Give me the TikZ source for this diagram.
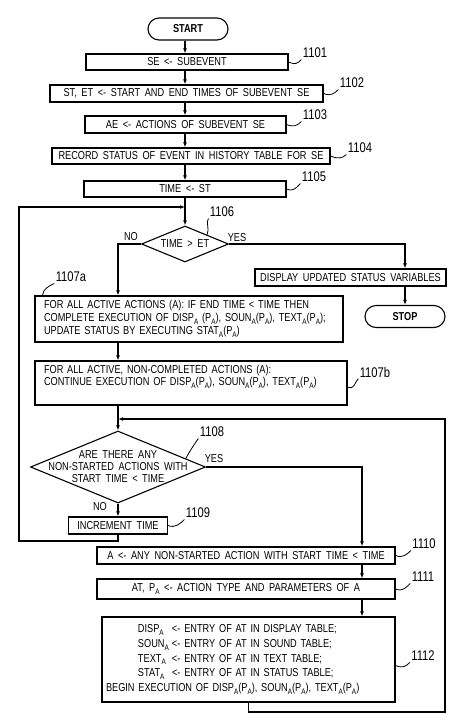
\documentclass[tikz,border=0pt]{standalone}
\usepackage{fontspec}
\setmainfont{Liberation Sans}[FakeStretch=0.8, WordSpace=1.8]
\usetikzlibrary{arrows.meta,shapes.geometric,calc}
\newcommand\ssub[1]{\raisebox{-0.45ex}{\fontsize{8}{8}\selectfont #1}}
\begin{document}
\begin{tikzpicture}[x=1pt,y=-1pt,
  font=\fontsize{11.5}{13}\selectfont,
  line width=1.1pt,
  pbox/.style={draw, rectangle, inner sep=0pt, minimum height=17pt, align=center},
  term/.style={draw, rectangle, rounded corners=11pt, minimum width=80pt, minimum height=22pt, font=\fontsize{11.5}{13}\selectfont\bfseries},
  dia/.style={draw, diamond, inner sep=0pt},
  lbl/.style={font=\fontsize{14}{14}\selectfont, inner sep=1pt},
  arr/.style={-{Latex[length=5pt,width=3.8pt]}},
  sq/.style={line width=0.8pt}]
\useasboundingbox (0,0) rectangle (474,721);
\coordinate (col) at (185,0);
\coordinate (col2) at (118,0);
\coordinate (col3) at (405,0);
\coordinate (col4) at (362,0);
% top column
\node[term] (start) at (188,29) {START};
\node[pbox, minimum width=202pt, minimum height=16pt] (b1101) at (187,62) {SE <- SUBEVENT};
\node[pbox, minimum width=273pt] (b1102) at (186.5,93.5) {ST, ET <- START AND END TIMES OF SUBEVENT SE};
\node[pbox, minimum width=201pt] (b1103) at (185.5,124.5) {AE <- ACTIONS OF SUBEVENT SE};
\node[pbox, minimum width=278pt, minimum height=16pt] (b1104) at (191,156) {RECORD STATUS OF EVENT IN HISTORY TABLE FOR SE};
\node[pbox, minimum width=202pt, minimum height=16pt] (b1105) at (185,189) {TIME <- ST};
\node[dia, minimum width=87pt, minimum height=36pt, label={center:TIME > ET}] (d1106) at (185,244) {};
\node[pbox, minimum width=191pt] (disp) at (350.5,277.5) {DISPLAY UPDATED STATUS VARIABLES};
\node[term] (stop) at (405,316.5) {STOP};
\node[pbox, minimum width=308pt, minimum height=46pt, text width=290pt, inner xsep=9pt, align=left] (b1107a) at (189,319)
 {FOR ALL ACTIVE ACTIONS (A): IF END TIME < TIME THEN\\
  COMPLETE EXECUTION OF DISP\ssub{A} (P\ssub{A}), SOUN\ssub{A}(P\ssub{A}), TEXT\ssub{A}(P\ssub{A});\\
  UPDATE STATUS BY EXECUTING STAT\ssub{A}(P\ssub{A})};
\node[pbox, minimum width=312pt, minimum height=44pt, text width=294pt, inner xsep=9pt, align=left, font=\fontsize{11.5}{11.5}\selectfont] (b1107b) at (191,383)
 {FOR ALL ACTIVE, NON-COMPLETED ACTIONS (A):\\
  CONTINUE EXECUTION OF DISP\ssub{A}(P\ssub{A}), SOUN\ssub{A}(P\ssub{A}), TEXT\ssub{A}(P\ssub{A})\\ \strut};
\node[dia, minimum width=175pt, minimum height=72pt,
  label={[align=center, font=\fontsize{11.5}{12}\selectfont]center:ARE THERE ANY\\NON-STARTED ACTIONS WITH\\START TIME < TIME}] (d1108) at (118,467) {};
\node[pbox, minimum width=99pt] (inc) at (118,525.5) {INCREMENT TIME};
\node[pbox, minimum width=298pt] (b1110) at (246,555.5) {A <- ANY NON-STARTED ACTION WITH START TIME < TIME};
\node[pbox, minimum width=298pt, minimum height=20pt] (b1111) at (246,589) {AT, P\ssub{A} <- ACTION TYPE AND PARAMETERS OF A};
\node[pbox, minimum width=293pt, minimum height=85pt, text width=285pt, inner xsep=4pt, align=left, font=\fontsize{11.5}{14.6}\selectfont] (b1112) at (248.5,659.5)
 {\hspace*{32pt}\makebox[34pt][l]{DISP\ssub{A}}<- ENTRY OF AT IN DISPLAY TABLE;\\
  \hspace*{32pt}\makebox[34pt][l]{SOUN\ssub{A}}<- ENTRY OF AT IN SOUND TABLE;\\
  \hspace*{32pt}\makebox[34pt][l]{TEXT\ssub{A}}<- ENTRY OF AT IN TEXT TABLE;\\
  \hspace*{32pt}\makebox[34pt][l]{STAT\ssub{A}}<- ENTRY OF AT IN STATUS TABLE;\\
  BEGIN EXECUTION OF DISP\ssub{A}(P\ssub{A}), SOUN\ssub{A}(P\ssub{A}), TEXT\ssub{A}(P\ssub{A})};
% branch labels
\node (no1) at (131,237) {NO};
\node (yes1) at (237,238) {YES};
\node (yes2) at (214,459) {YES};
\node (no2) at (100,507) {NO};
% reference numerals
\node[lbl] (l1101) at (315,53) {1101};
\node[lbl] (l1102) at (352,83) {1102};
\node[lbl] (l1103) at (315,115) {1103};
\node[lbl] (l1104) at (360,148) {1104};
\node[lbl] (l1105) at (314,177) {1105};
\node[lbl] (l1106) at (222,212) {1106};
\node[lbl] (l1107a) at (71,277) {1107a};
\node[lbl] (l1107b) at (375,372) {1107b};
\node[lbl] (l1108) at (212,432) {1108};
\node[lbl] (l1109) at (198,513) {1109};
\node[lbl] (l1110) at (424,544) {1110};
\node[lbl] (l1111) at (423,577) {1111};
\node[lbl] (l1112) at (423,656) {1112};
% coordinates for loops
\coordinate (lbot) at (19,541);
\coordinate (ltop) at (19,207);
\coordinate (rbot) at (445,712);
\coordinate (rtop) at (445,419);
% main connectors
\draw[arr] (start.south -| col) -- (b1101.north -| col);
\draw[arr] (b1101.south -| col) -- (b1102.north -| col);
\draw[arr] (b1102.south -| col) -- (b1103.north -| col);
\draw[arr] (b1103.south -| col) -- (b1104.north -| col);
\draw[arr] (b1104.south -| col) -- (b1105.north -| col);
\draw[arr] (b1105.south -| col) -- (d1106.north);
\draw[arr] (d1106.west) -| (b1107a.north -| col2);
\draw[arr] (d1106.east) -| (disp.north -| col3);
\draw[arr] (disp.south -| col3) -- (stop.north);
\draw[arr] (b1107a.south -| col2) -- (b1107b.north -| col2);
\draw[arr] (b1107b.south -| col2) -- (d1108.north);
\draw[arr] (d1108.south) -- (inc.north);
\draw[arr] (d1108.east) -| (b1110.north -| col4);
\draw[arr] (b1110.south -| col4) -- (b1111.north -| col4);
\draw[arr] (b1111.south -| col4) -- (b1112.north -| col4);
\draw[arr] (inc.south) -- (inc.south |- lbot) -- (lbot) -- (ltop) -- (col |- ltop);
\draw[arr] (b1112.south) -- (b1112.south |- rbot) -- (rbot) -- (rtop) -- (col2 |- rtop);
% leader squiggles
\draw[sq] (b1101.east) .. controls +(7,3) and +(-4,4) .. (l1101.south west);
\draw[sq] (b1102.east) .. controls +(7,3) and +(-4,4) .. (l1102.south west);
\draw[sq] (b1103.east) .. controls +(7,3) and +(-4,4) .. (l1103.south west);
\draw[sq] (b1104.east) .. controls +(7,3) and +(-4,4) .. (l1104.south west);
\draw[sq] (b1105.east) .. controls +(7,3) and +(-4,4) .. (l1105.south west);
\draw[sq] (d1106.north east) .. controls +(3,-6) and +(-3,4) .. (l1106.south west);
\draw[sq] ([xshift=8pt]b1107a.north west) .. controls +(1,-7) and +(-6,3) .. (l1107a.south west);
\draw[sq] ([yshift=-4pt]b1107b.east) .. controls +(7,3) and +(-4,4) .. (l1107b.south west);
\draw[sq] ($(d1108.north)!0.77!(d1108.east)$) .. controls +(3,-6) and +(-3,4) .. (l1108.south west);
\draw[sq] (inc.east) .. controls +(7,3) and +(-4,4) .. (l1109.south west);
\draw[sq] (b1110.east) .. controls +(7,3) and +(-4,4) .. (l1110.south west);
\draw[sq] (b1111.east) .. controls +(7,3) and +(-4,4) .. (l1111.south west);
\draw[sq] ([yshift=-6pt]b1112.east) .. controls +(7,3) and +(-4,4) .. (l1112.south west);
\end{tikzpicture}
\end{document}
